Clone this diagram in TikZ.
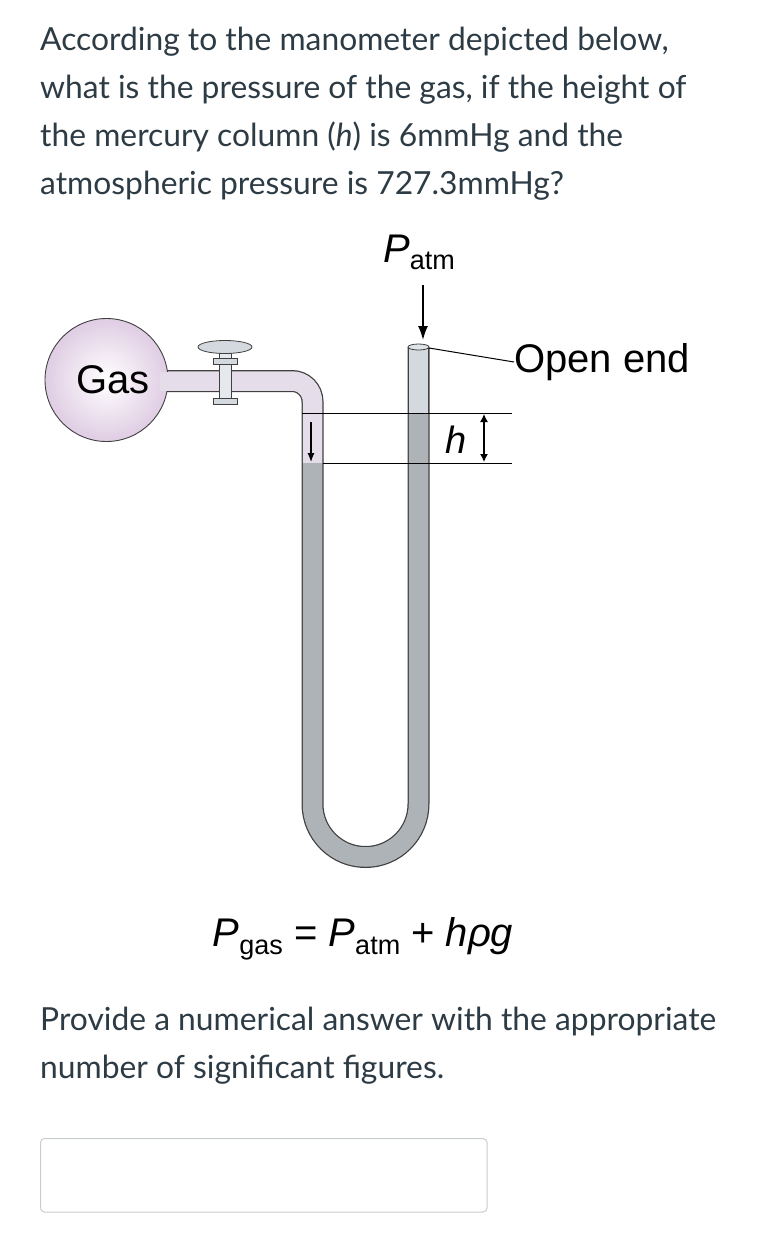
\documentclass[tikz,border=0pt]{standalone}
\usepackage{fontspec}
\usetikzlibrary{arrows.meta}
\setmainfont{Lato}
\newfontfamily\arial{Liberation Sans}
\definecolor{txt}{HTML}{2D3B45}
\definecolor{gasc}{HTML}{E6DDEB}
\definecolor{emptyc}{HTML}{D3D9DF}
\definecolor{hgc}{HTML}{AEB3B8}
\definecolor{boxc}{HTML}{C7CDD1}
\begin{document}
\begin{tikzpicture}[x=1pt,y=-1pt,
  q/.style={anchor=base west,inner sep=0pt,font=\fontsize{31.8}{34}\selectfont,text=txt},
  lab/.style={inner sep=0pt,font=\arial\fontsize{40}{44}\selectfont},
  tubeo/.style={line width=22pt,draw=black!75},
  tubei/.style={line width=19.5pt,line cap=butt}]
\useasboundingbox (0,0) rectangle (758,1258);
% question
\node[q] (l1) at (40,50) {According to the manometer depicted below,};
\node[q] (l2) at (40,98) {what is the pressure of the gas, if the height of};
\node[q] (l3) at (40,146) {the mercury column (\textit{h}) is 6mmHg and the};
\node[q] (l4) at (40,194) {atmospheric pressure is 727.3mmHg?};
% tube
\coordinate (tA) at (160,381);
\coordinate (tL) at (312.5,463);
\coordinate (tR) at (418.5,413);
\coordinate (tT) at (418.5,347);
\draw[tubeo] (tA) -- (292,381) arc[start angle=-90,end angle=0,radius=20.5] -- (312.5,804) arc[start angle=180,end angle=0,radius=53] -- (tT);
\draw[tubei,draw=gasc] (tA) -- (292,381) arc[start angle=-90,end angle=0,radius=20.5] -- (tL);
\draw[tubei,draw=hgc] (tL) -- (312.5,804) arc[start angle=180,end angle=0,radius=53] -- (tR);
\draw[tubei,draw=emptyc] (tR) -- (tT);
\draw[black!75,fill=emptyc!70!white,line width=0.8pt] (tT) ellipse[x radius=10.5,y radius=3];
% bulb
\node[circle,minimum size=123pt,draw=black!75,line width=0.9pt,inner color=white,outer color=gasc!90!violet!90!white] (bulb) at (106.5,380) {};
\fill[gasc] (160,371.5) rectangle (172,390.5);
\node[lab] (gas) at (113,380) {Gas};
% valve
\draw[black!75,fill=emptyc!60!white,line width=0.8pt] (219,352) rectangle (231,402);
\draw[black!75,fill=emptyc,line width=0.8pt] (213,358) rectangle (237,364);
\draw[black!75,fill=emptyc,line width=0.8pt] (213,398) rectangle (237,404);
\draw[black!75,fill=emptyc,line width=0.8pt] (225,347) ellipse[x radius=27,y radius=6.5];
% level lines
\coordinate (a1) at (302,413);
\coordinate (a2) at (512,413);
\coordinate (b1) at (323,463);
\coordinate (b2) at (512,463);
\draw[line width=1pt] (a1) -- (a2);
\draw[line width=1pt] (b1) -- (b2);
\draw[line width=1.2pt,-{Latex[length=9pt,width=7pt]}] (311,422) -- (311,462);
\node[lab,font=\arial\itshape\fontsize{38}{40}\selectfont] (h) at (456,440) {h};
\draw[line width=1.2pt,{Latex[length=8pt,width=8pt]}-{Latex[length=8pt,width=8pt]}] (484,414) -- (484,462);
% Patm
\node[lab,anchor=base] (patm) at (419,262) {\textit{P}\raisebox{-7pt}{\fontsize{27}{30}\selectfont atm}};
\coordinate (pa) at (423,285);
\draw[line width=1.6pt,-{Latex[length=14pt,width=10pt]}] (pa) -- (423,340);
% open end
\node[lab,anchor=west] (open) at (514,362) {Open end};
\draw[line width=1pt] (429,348) -- (open.west);
% formula
\node[lab,anchor=base] (form) at (363,946) {\textit{P}\raisebox{-8pt}{\fontsize{27}{30}\selectfont gas} = \textit{P}\raisebox{-8pt}{\fontsize{27}{30}\selectfont atm} + \textit{hρg}};
% footer
\node[q] (f1) at (40,1030) {Provide a numerical answer with the appropriate};
\node[q] (f2) at (40,1078) {number of significant figures.};
\draw[boxc,line width=1pt,rounded corners=4pt] (40.5,1138.5) rectangle (487,1212) node[pos=.5,inner sep=0pt] (box) {};
\end{tikzpicture}
\end{document}
